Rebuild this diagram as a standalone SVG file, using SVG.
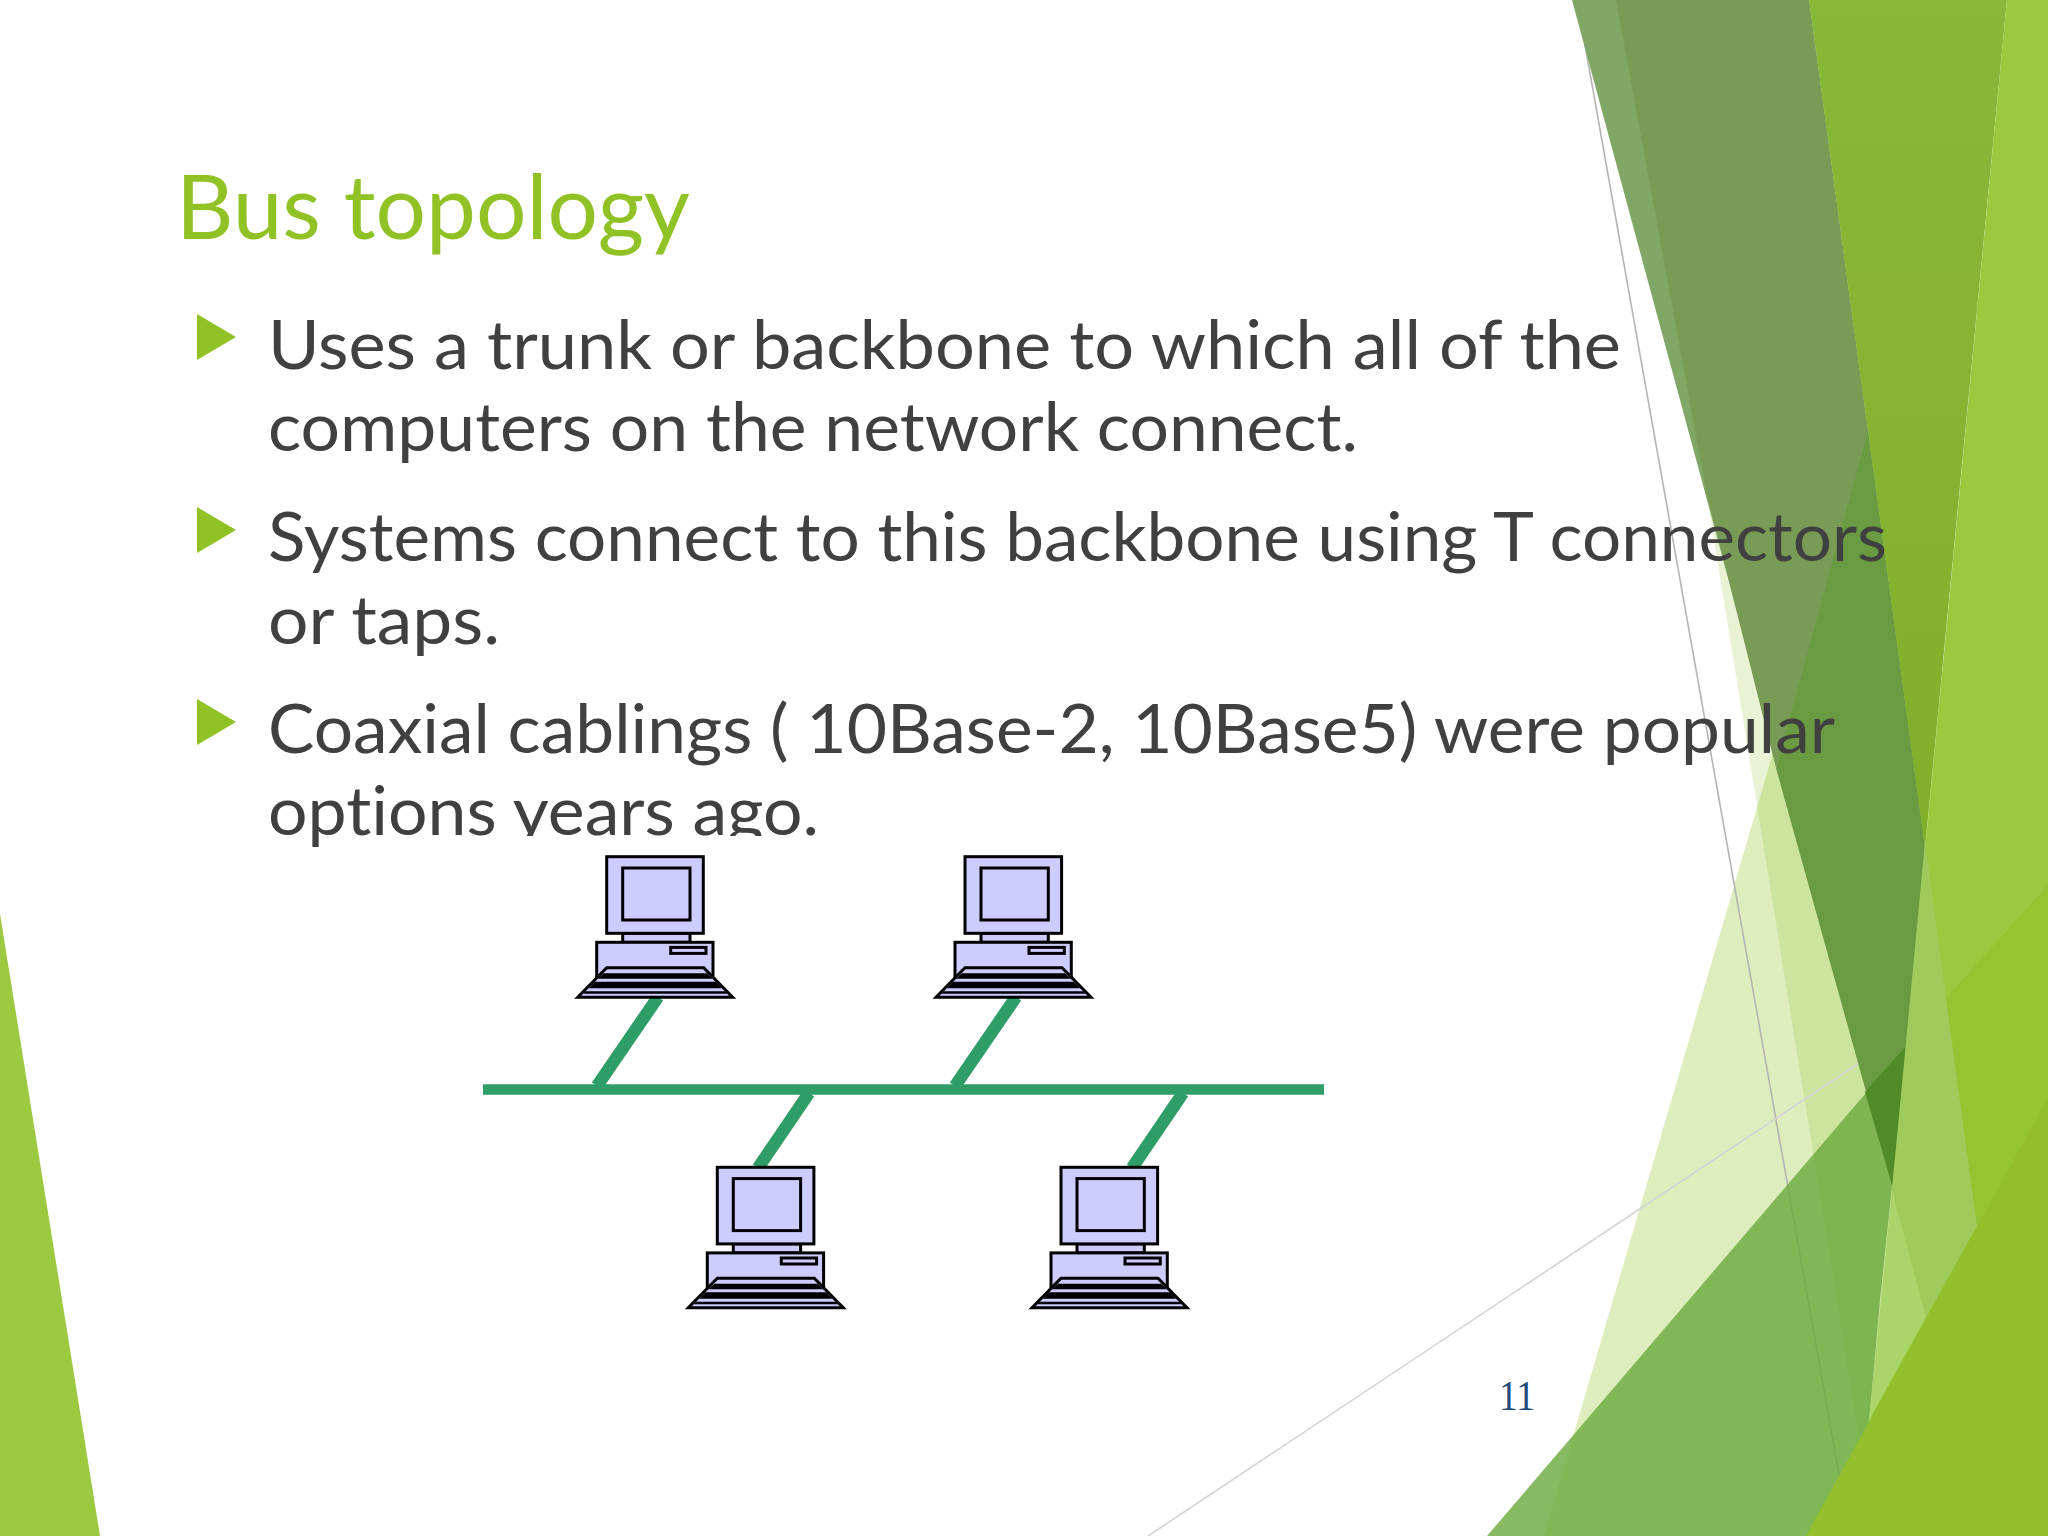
<svg xmlns="http://www.w3.org/2000/svg" xmlns:xlink="http://www.w3.org/1999/xlink" width="2048" height="1536" viewBox="0 0 2048 1536">
<style>
text{font-variant-ligatures:none}
.body{font-family:Lato,"Noto Sans",sans-serif;font-size:68px;fill:#404040}
.bul{fill:#90C226}
.lav{fill:#CCCCFF;stroke:#000;stroke-width:3}
.blk{fill:#000}
.bus{stroke:#2F9D68;stroke-width:10.5;fill:none}
.cable{stroke:#2F9D68;stroke-width:12.5;fill:none}
</style>
<defs>
<linearGradient id="bright" x1="0" y1="0" x2="0" y2="1"><stop offset="0" stop-color="#88B838"/><stop offset="1" stop-color="#80B02A"/></linearGradient>
<g id="pc">
<rect class="lav" x="16" y="76.6" width="67.3" height="9"/>
<rect class="lav" x="0" y="0" width="96.6" height="76.6"/>
<rect class="lav" x="16" y="11.3" width="67.3" height="52"/>
<rect class="lav" x="-10" y="85.6" width="116.3" height="36"/>
<rect class="lav" x="64" y="90.7" width="35.3" height="6"/>
<polygon class="lav" points="0,111 97,111 126,140.5 -29,140.5"/>
<polygon class="blk" points="-3,116.5 100,116.5 106,122 -9,122"/>
<polygon class="blk" points="-12,125 109,125 115,131.5 -18,131.5"/>
<polygon class="blk" points="-21,134.5 118,134.5 121,137 -24,137"/>
</g>
</defs>
<rect width="2048" height="1536" fill="#FFFFFF"/>
<g id="background">
<polygon points="0,914 100,1536 0,1536" fill="#9BC93F"/>
<polygon points="1867,431 1544,1536 1880,1536 1950,700" fill="#90C226" opacity="0.3"/>
<polygon points="1706,490 1875,1536 1900,1536 1900,1050 1800,600" fill="#90C226" opacity="0.2"/>
<line x1="1577" y1="0" x2="1850" y2="1536" stroke="#B4B4B4" stroke-width="1.6"/>
<line x1="1148" y1="1536" x2="1960" y2="996" stroke="#D4D4D4" stroke-width="1.6"/>
<polygon points="1572,0 1809,0 1977,1226 1892,1185" fill="#80A765"/>
<polygon points="1616,0 1809,0 1868,431 1776,768 1706,490" fill="#789C55"/>
<polygon points="1868,431 1977,1226 1892,1185 1776,768" fill="#6A9A42"/>
<polygon points="1809,0 2007,0 1925,848" fill="url(#bright)"/>
<polygon points="1487,1536 1907,1045 1880,1300 1859,1536" fill="#6AA93C" opacity="0.8"/>
<polygon points="1865,1092 1907,1045 1892,1185" fill="#518B28"/>
<polygon points="2007,0 2048,0 2048,1536 1859,1536" fill="#98C93E"/>
<polygon points="1925,842 1977,1226 1926,1317 1892,1190" fill="#9FCB5C"/>
<polygon points="1892,1190 1926,1317 1869,1420" fill="#A9D56B"/>
<polygon points="2048,885 1946,998 1977,1226 2048,1097" fill="#95C433"/>
<polygon points="1806,1536 1977,1226 2048,1097 2048,1536" fill="#92BF2B"/>
</g>
<g id="title">
<text x="176" y="239" font-family="Lato, Noto Sans, sans-serif" font-size="90" fill="#90C226" textLength="514" lengthAdjust="spacingAndGlyphs">Bus topology</text>
</g>
<g id="bullets">
<polygon class="bul" points="197,314 236,337 197,360"/>
<polygon class="bul" points="197,507 236,530 197,553"/>
<polygon class="bul" points="197,699 236,722 197,745"/>
<text class="body" x="268" y="369" textLength="1353" lengthAdjust="spacingAndGlyphs">Uses a trunk or backbone to which all of the</text>
<text class="body" x="268" y="451" textLength="1090" lengthAdjust="spacingAndGlyphs">computers on the network connect.</text>
<text class="body" x="268" y="561" textLength="1619" lengthAdjust="spacingAndGlyphs">Systems connect to this backbone using T connectors</text>
<text class="body" x="268" y="644" textLength="232" lengthAdjust="spacingAndGlyphs">or taps.</text>
<text class="body" x="268" y="753" textLength="1567" lengthAdjust="spacingAndGlyphs">Coaxial cablings ( 10Base-2, 10Base5) were popular</text>
<text class="body" x="268" y="835" textLength="551" lengthAdjust="spacingAndGlyphs">options years ago.</text>
</g>
<rect id="picture-ground" x="330" y="836" width="1030" height="484" fill="#FFFFFF"/>
<g id="connectors">
<line class="bus" x1="483" y1="1089.5" x2="1324" y2="1089.5"/>
<line class="cable" x1="658" y1="997" x2="597" y2="1086"/>
<line class="cable" x1="1016" y1="997" x2="955" y2="1086"/>
<line class="cable" x1="809" y1="1093" x2="758" y2="1168"/>
<line class="cable" x1="1183" y1="1093" x2="1132" y2="1168"/>
</g>
<g id="computer-1"><use xlink:href="#pc" href="#pc" x="606.7" y="856.7"/></g>
<g id="computer-2"><use xlink:href="#pc" href="#pc" x="965" y="856.7"/></g>
<g id="computer-3"><use xlink:href="#pc" href="#pc" x="717.3" y="1167.3"/></g>
<g id="computer-4"><use xlink:href="#pc" href="#pc" x="1061" y="1167.3"/></g>
<text id="page-number" x="1499" y="1410" font-family="Liberation Serif, serif" font-size="42" fill="#1F497D" textLength="36" lengthAdjust="spacingAndGlyphs">11</text>
</svg>
